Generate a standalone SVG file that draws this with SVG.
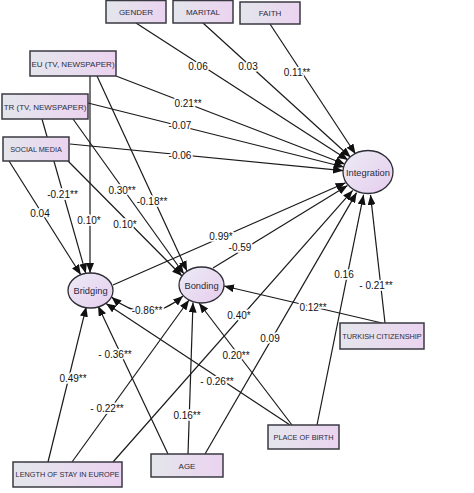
<svg xmlns="http://www.w3.org/2000/svg" width="474" height="493" viewBox="0 0 474 493">
<style>
.box{fill:url(#gBox);stroke:#3a3a42;stroke-width:1.5}
.ell{fill:url(#gEll);stroke:#2e2e36;stroke-width:1.3}
.bt{font-family:"Liberation Sans",Arial,sans-serif;font-size:8px;fill:#2c2c3c;text-anchor:middle}
.sm{font-size:7.3px}
.et{font-family:"Liberation Sans",Arial,sans-serif;font-size:9.3px;fill:#2a2a3a;text-anchor:middle}
.ln{fill:none;stroke:#1a1a1a;stroke-width:1.2;marker-end:url(#ah)}
.cov{fill:none;stroke:#1a1a1a;stroke-width:1.2;marker-end:url(#ah);marker-start:url(#ahs)}
.lb{font-family:"Liberation Sans",Arial,sans-serif;font-size:10px;fill:#111;text-anchor:middle;stroke:#fff;stroke-width:3.5px;paint-order:stroke;stroke-linejoin:round}
</style>
<defs>
<linearGradient id="gBox" x1="0" y1="0" x2="1" y2="0">
<stop offset="0" stop-color="#e4e6ec"/>
<stop offset="1" stop-color="#ebd3f0"/>
</linearGradient>
<linearGradient id="gEll" x1="0" y1="0" x2="1" y2="1">
<stop offset="0" stop-color="#ecebf5"/>
<stop offset="1" stop-color="#e6cdee"/>
</linearGradient>
<marker id="ah" markerUnits="userSpaceOnUse" markerWidth="10" markerHeight="8" refX="10" refY="4" orient="auto">
<path d="M0,0 L10,4 L0,8 z" fill="#111"/>
</marker>
<marker id="ahs" markerUnits="userSpaceOnUse" markerWidth="10" markerHeight="8" refX="10" refY="4" orient="auto-start-reverse">
<path d="M0,0 L10,4 L0,8 z" fill="#111"/>
</marker>
</defs>
<rect width="474" height="493" fill="#fff"/>

<g id="connectors">
<path class="ln" d="M136,23 L348,160"/>
<path class="ln" d="M203,23 L350.6,157.2"/>
<path class="ln" d="M270,24 L355.5,154"/>
<path class="ln" d="M116,76 L345.1,164.2"/>
<path class="ln" d="M88,103 L343.9,167"/>
<path class="ln" d="M70,144 L343.1,170.6"/>
<path class="ln" d="M113,285 L345.6,182.8"/>
<path class="ln" d="M213,268 L347.5,185.6"/>
<path class="ln" d="M113,462 L352.7,190.4"/>
<path class="ln" d="M205,454 L356.6,192.6"/>
<path class="ln" d="M317,425 L363.6,194.7"/>
<path class="ln" d="M385,323 L370.5,194.9"/>
<path class="ln" d="M9,161 L80.8,274.7"/>
<path class="ln" d="M42,119 L85.8,273.4"/>
<path class="ln" d="M90,76 L90,273"/>
<path class="ln" d="M48,462 L86.3,306.7"/>
<path class="ln" d="M168,454 L98.1,306"/>
<path class="ln" d="M290,425 L106,303.5"/>
<path class="ln" d="M68,161 L182,276"/>
<path class="ln" d="M73,119 L184,274"/>
<path class="ln" d="M97,76 L187,271"/>
<path class="ln" d="M72,462 L189,300"/>
<path class="ln" d="M188,454 L193,302.5"/>
<path class="ln" d="M292,425 L199,303"/>
<path class="ln" d="M382,323 L224,286"/>
<path class="cov" d="M111.5,297 Q147,327 183,296"/>

<text class="lb" x="198" y="70">0.06</text>
<text class="lb" x="248" y="70">0.03</text>
<text class="lb" x="297" y="76">0.11**</text>
<text class="lb" x="188" y="107">0.21**</text>
<text class="lb" x="180" y="129">-0.07</text>
<text class="lb" x="180" y="159">-0.06</text>
<text class="lb" x="62.5" y="198">-0.21**</text>
<text class="lb" x="40" y="217">0.04</text>
<text class="lb" x="89" y="224">0.10*</text>
<text class="lb" x="122" y="194">0.30**</text>
<text class="lb" x="152" y="205">-0.18**</text>
<text class="lb" x="125" y="228">0.10*</text>
<text class="lb" x="221" y="240">0.99*</text>
<text class="lb" x="240" y="251">-0.59</text>
<text class="lb" x="239" y="319">0.40*</text>
<text class="lb" x="270" y="342">0.09</text>
<text class="lb" x="344" y="278">0.16</text>
<text class="lb" x="376" y="289">- 0.21**</text>
<text class="lb" x="313" y="311">0.12**</text>
<text class="lb" x="147" y="314">-0.86**</text>
<text class="lb" x="115" y="358">- 0.36**</text>
<text class="lb" x="73" y="382">0.49**</text>
<text class="lb" x="107" y="412">- 0.22**</text>
<text class="lb" x="187" y="419">0.16**</text>
<text class="lb" x="217" y="385">- 0.26**</text>
<text class="lb" x="236" y="359">0.20**</text>
</g>

<g id="gender"><rect class="box" x="106" y="0.5" width="60" height="22.5"/><text class="bt" x="136" y="15">GENDER</text></g>
<g id="marital"><rect class="box" x="173" y="0.5" width="60" height="22.5"/><text class="bt" x="203" y="14.5">MARITAL</text></g>
<g id="faith"><rect class="box" x="240" y="2" width="60" height="22"/><text class="bt" x="270" y="16">FAITH</text></g>
<g id="eu"><rect class="box" x="30" y="51" width="86" height="25"/><text class="bt" x="73" y="66.5">EU (TV, NEWSPAPER)</text></g>
<g id="tr"><rect class="box" x="2" y="94" width="86" height="25"/><text class="bt" x="45" y="109.5">TR (TV, NEWSPAPER)</text></g>
<g id="social"><rect class="box" x="3" y="137" width="66" height="24"/><text class="bt sm" x="36" y="151.5">SOCIAL MEDIA</text></g>
<g id="integration"><ellipse class="ell" cx="368" cy="172" rx="25" ry="21.5"/><text class="et" x="368" y="175.5">Integration</text></g>
<g id="bridging"><ellipse class="ell" cx="90.5" cy="290.5" rx="22.5" ry="17.5"/><text class="et" x="90.5" y="294">Bridging</text></g>
<g id="bonding"><ellipse class="ell" cx="201.5" cy="285" rx="22.5" ry="18"/><text class="et" x="201.5" y="288.5">Bonding</text></g>
<g id="turkish"><rect class="box" x="340" y="323" width="84" height="26"/><text class="bt sm" x="382" y="339">TURKISH CITIZENSHIP</text></g>
<g id="place"><rect class="box" x="268" y="425" width="71" height="24"/><text class="bt sm" x="303.5" y="439.5">PLACE OF BIRTH</text></g>
<g id="length"><rect class="box" x="13" y="462" width="109" height="25"/><text class="bt sm" x="67.5" y="477">LENGTH OF STAY IN EUROPE</text></g>
<g id="age"><rect class="box" x="151" y="454" width="72" height="23"/><text class="bt" x="187" y="468.5">AGE</text></g>
</svg>
